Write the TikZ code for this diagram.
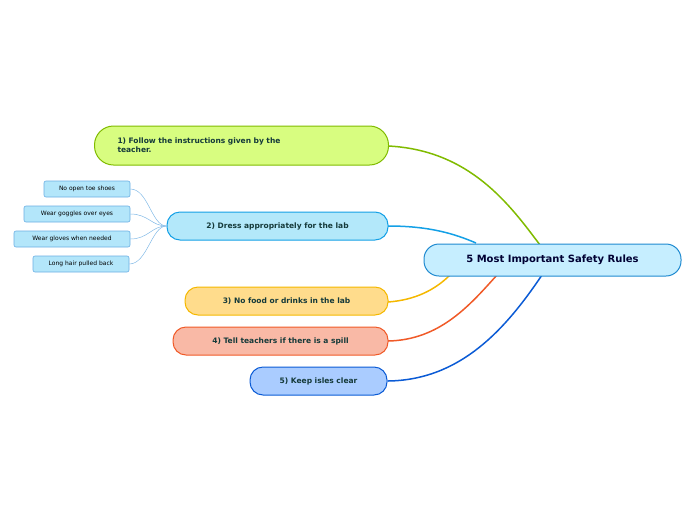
\documentclass[tikz,border=0pt]{standalone}
\usepackage{fontspec}
\setmainfont{DejaVu Sans}
\begin{document}
\begin{tikzpicture}[x=1pt,y=-1pt,
  box/.style={draw,line width=1pt,font=\bfseries\fontsize{7.5}{9}\selectfont,inner sep=0pt},
  sub/.style={draw=cyan!70!blue!60,fill=cyan!30,rounded corners=2pt,line width=0.6pt,font=\fontsize{6}{7}\selectfont,inner sep=0pt,minimum height=16pt},
  con/.style={line width=1.5pt},
  subcon/.style={draw=cyan!70!blue!50,line width=0.5pt}]
\useasboundingbox (0,0) rectangle (696,520);
\definecolor{rootf}{HTML}{C6EEFF}\definecolor{rootd}{HTML}{1F8AD0}
\definecolor{af}{HTML}{D8FD80}\definecolor{ad}{HTML}{80BB00}
\definecolor{bf}{HTML}{B3E8FA}\definecolor{bd}{HTML}{14A0E6}
\definecolor{cf}{HTML}{FFDC8C}\definecolor{cd}{HTML}{F5B800}
\definecolor{df}{HTML}{F9B9A6}\definecolor{dd}{HTML}{F05A28}
\definecolor{ef}{HTML}{AACCFF}\definecolor{ed}{HTML}{0B5BD5}
\definecolor{txt}{HTML}{153A3A}
\coordinate (r1) at (540,245); \coordinate (r2) at (476,243);
\coordinate (r3) at (450,275); \coordinate (r4) at (497,275); \coordinate (r5) at (542,275);
\draw[con,ad] (388,146) .. controls (470,150) and (510,205) .. (r1);
\draw[con,bd] (388,226) .. controls (430,226) and (455,234) .. (r2);
\draw[con,cd] (388,302) .. controls (415,300) and (435,290) .. (r3);
\draw[con,dd] (388,341) .. controls (440,340) and (470,305) .. (r4);
\draw[con,ed] (388,381) .. controls (460,380) and (505,330) .. (r5);
\node[box,draw=rootd,fill=rootf,rounded corners=15pt,minimum width=257pt,minimum height=32pt,text=black!80!blue,font=\bfseries\fontsize{10}{12}\selectfont] (root) at (552.5,260) {5 Most Important Safety Rules};
\node[box,draw=ad,fill=af,rounded corners=19pt,minimum width=294pt,minimum height=39pt,text=txt,align=left,anchor=west,text width=294pt] (n1) at (94,145.5) {\hspace*{23pt}1) Follow the instructions given by the\\\hspace*{23pt}teacher.};
\node[box,draw=bd,fill=bf,rounded corners=13pt,minimum width=221pt,minimum height=28pt,text=txt] (n2) at (277.5,226) {2) Dress appropriately for the lab};
\node[box,draw=cd,fill=cf,rounded corners=13pt,minimum width=203pt,minimum height=28pt,text=txt] (n3) at (286.5,301) {3) No food or drinks in the lab};
\node[box,draw=dd,fill=df,rounded corners=13pt,minimum width=215pt,minimum height=28pt,text=txt] (n4) at (280.5,341) {4) Tell teachers if there is a spill};
\node[box,draw=ed,fill=ef,rounded corners=13pt,minimum width=137pt,minimum height=28pt,text=txt] (n5) at (318.5,381) {5) Keep isles clear};
\node[sub,minimum width=86pt] (s1) at (87,189) {No open toe shoes};
\node[sub,minimum width=106pt] (s2) at (77,214) {Wear goggles over eyes};
\node[sub,minimum width=116pt] (s3) at (72,239) {Wear gloves when needed};
\node[sub,minimum width=96pt] (s4) at (81,264) {Long hair pulled back};
\coordinate (hub) at (n2.west);
\draw[subcon] (hub) .. controls ++(-15,0) and ++(18,0) .. (s1.east);
\draw[subcon] (hub) .. controls ++(-15,0) and ++(18,0) .. (s2.east);
\draw[subcon] (hub) .. controls ++(-15,0) and ++(18,0) .. (s3.east);
\draw[subcon] (hub) .. controls ++(-15,0) and ++(18,0) .. (s4.east);
\end{tikzpicture}
\end{document}
